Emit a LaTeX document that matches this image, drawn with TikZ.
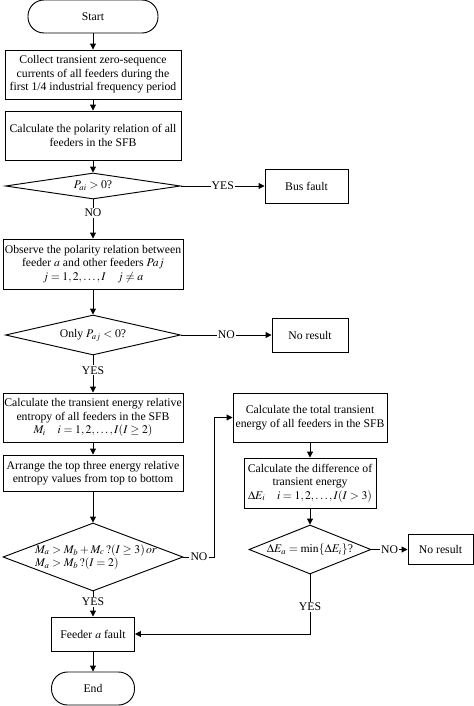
\documentclass[tikz,border=0pt]{standalone}
\usepackage{mathptmx}
\usepackage{fontspec}
\setmainfont{Liberation Serif}
\usetikzlibrary{shapes.geometric, arrows.meta}

\begin{document}
\begin{tikzpicture}[
    x=0.3mm, y=-0.3mm,
    font=\fontsize{10}{11.5}\selectfont,
    % Styles
    dims/.style 2 args={% Size of a shape, in pixels of the scan
        minimum width=#1*0.3mm,
        minimum height=#2*0.3mm,
        },
    terminal/.style={% For start and end
        rectangle,
        rounded corners=4.8mm,
        draw,
        thick,
        inner sep=1pt,
        },
    process/.style={% For the steps
        rectangle,
        draw,
        thick,
        align=center,
        inner sep=1pt,
        },
    decision/.style={% For the tests
        diamond,
        draw,
        thick,
        inner sep=0pt,
        },
    tag/.style={% For YES and NO on the arrows
        fill=white,
        inner sep=1pt,
        },
    ArrowC1/.style={% Arrows
        -{Triangle[length=5pt, width=5pt]},
        thick,
        },
    ]

    \useasboundingbox (0,0) rectangle (474,706);

    %Start drawing the thing...
    % left column
    \node [terminal, dims={130}{33}] (start) at (93,16.5) {Start};
    \node [process, dims={176}{49}] (collect) at (93,74.5) {Collect transient zero-sequence\\currents of all feeders during the\\first 1/4 industrial frequency period};
    \node [process, dims={176}{49}] (polar) at (93,135.5) {Calculate the polarity relation of all\\feeders in the SFB};
    \node [decision, aspect=6.7, dims={175}{26}] (dec1) at (93,186) {$P_{ai}>0$?};
    \node [process, dims={180}{50}] (observe) at (93,264) {Observe the polarity relation between\\feeder $a$ and other feeders $Paj$\\$j=1,2,\ldots,I\quad j\neq a$};
    \node [decision, aspect=4.4, dims={175}{40}] (dec2) at (93,335) {Only $P_{aj}<0$?};
    \node [process, dims={180}{49}] (entropy) at (93,417.5) {Calculate the transient energy relative\\entropy of all feeders in the SFB\\$M_i\quad i=1,2,\ldots,I(I\geq 2)$};
    \node [process, dims={180}{36}] (arrange) at (93,473) {Arrange the top three energy relative\\entropy values from top to bottom};
    \node [decision, aspect=2.6, dims={180}{68}] (dec3) at (93,557) {};
    \node [align=left] (dec3-text) at (96,557) {$M_a>M_b+M_c\,?(I\geq 3)\,\mathit{or}$\\$M_a>M_b\,?(I=2)$};
    \node [process, dims={83}{34}] (feeder) at (93,634) {Feeder $a$ fault};
    \node [terminal, dims={83}{33}] (end) at (93,688.5) {End};

    % right column
    \node [process, dims={83}{34}] (bus) at (306.5,186) {Bus fault};
    \node [process, dims={76}{34}] (nores1) at (310,335) {No result};
    \node [process, dims={154}{49}] (total) at (310,417.5) {Calculate the total transient\\energy of all feeders in the SFB};
    \node [process, dims={132}{50}] (diff) at (310,483) {Calculate the difference of\\transient energy\\$\Delta E_i\quad i=1,2,\ldots,I(I>3)$};
    \node [decision, aspect=2.5, dims={122}{49}] (dec4) at (310,549.5) {$\Delta E_a=\min\{\Delta E_i\}$?};
    \node [process, dims={65}{30}] (nores2) at (440.5,549.5) {No result};

   % Draw Arrows
   % main line
    \draw [ArrowC1] (start) -- (collect);
    \draw [ArrowC1] (collect) -- (polar);
    \draw [ArrowC1] (polar) -- (dec1);
    \draw [ArrowC1] (dec1) -- node[tag]{YES} (bus);
    \draw [ArrowC1] (dec1) -- node[tag, pos=0.35]{NO} (observe);
    \draw [ArrowC1] (observe) -- (dec2);
    \draw [ArrowC1] (dec2) -- node[tag]{NO} (nores1);
    \draw [ArrowC1] (dec2) -- node[tag, pos=0.4]{YES} (entropy);
    \draw [ArrowC1] (entropy) -- (arrange);
    \draw [ArrowC1] (arrange) -- (dec3);
    \draw [ArrowC1] (dec3) -- node[tag, pos=0.42]{YES} (feeder);
    \draw [ArrowC1] (feeder) -- (end);

   % second branch
    \draw [ArrowC1] (dec3.east) -- node[tag]{NO} ++(31,0) |- (total.west);
    \draw [ArrowC1] (total) -- (diff);
    \draw [ArrowC1] (diff) -- (dec4);
    \draw [ArrowC1] (dec4) -- node[tag]{NO} (nores2);
    \draw [ArrowC1] (dec4.south) |- node[tag, pos=0.27]{YES} (feeder.east);

\end{tikzpicture}
\end{document}
